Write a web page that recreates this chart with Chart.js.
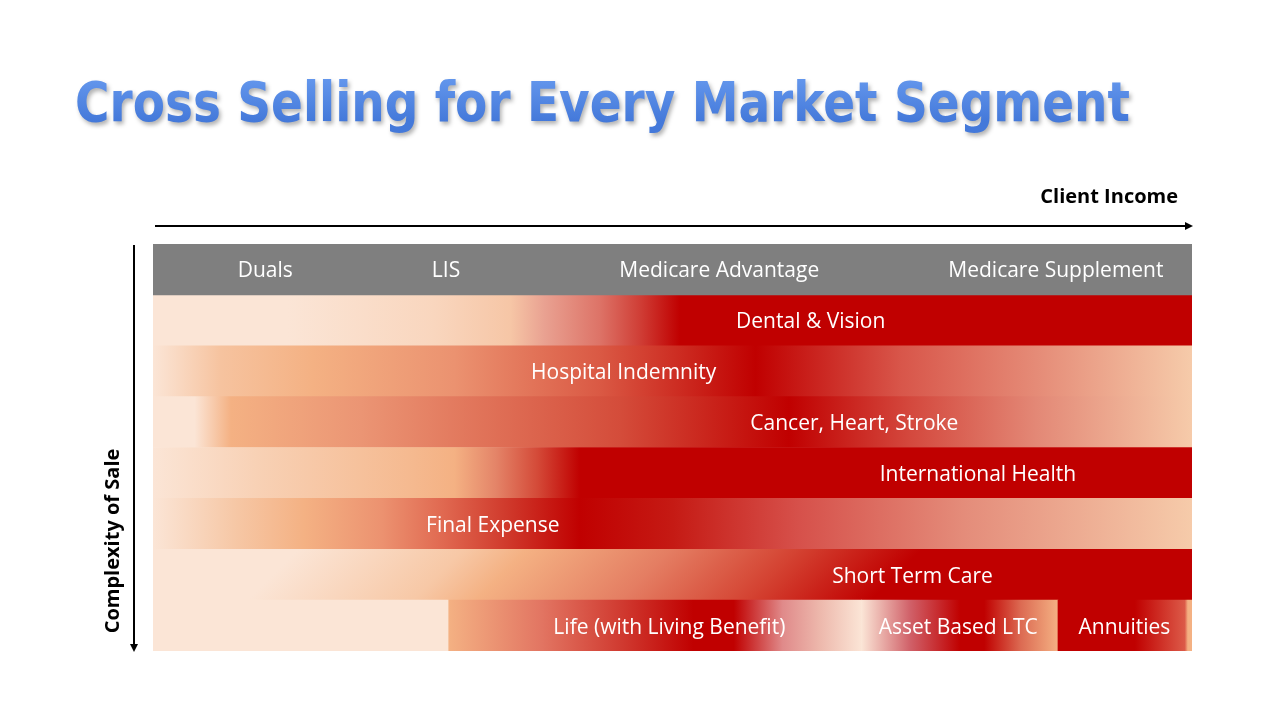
<!DOCTYPE html>
<html>
<head>
<meta charset="utf-8">
<title>Cross Selling for Every Market Segment</title>
<script src="https://cdn.jsdelivr.net/npm/chart.js"></script>
<style>
    html, body { margin: 0; padding: 0; background: #ffffff; }
    #chart { display: block; }
</style>
</head>
<body>
<canvas id="chart" width="1280" height="720"></canvas>
<script>
// Rows of the grid (top row holds the market segments)
const rowNames = ['Market Segment', 'Dental & Vision', 'Hospital Indemnity', 'Cancer, Heart, Stroke',
    'International Health', 'Final Expense', 'Short Term Care', 'Life / LTC / Annuities'];

// Market segments along client income (0 = lowest, 100 = highest)
const segments = ['Duals', 'LIS', 'Medicare Advantage', 'Medicare Supplement'];
const segmentAt = [10.8, 28.2, 54.5, 86.9];

// Products, the row they sit in, and the income span they cover
const products = ['Dental & Vision', 'Hospital Indemnity', 'Cancer, Heart, Stroke', 'International Health',
    'Final Expense', 'Short Term Care', 'Life (with Living Benefit)', 'Asset Based LTC', 'Annuities'];
const productRow = [1, 2, 3, 4, 5, 6, 7, 7, 7];
const productStart = [0, 0, 0, 0, 0, 0, 28.4, 68.2, 87.1];
const productEnd = [100, 100, 100, 100, 100, 100, 68.2, 87.1, 100];
const labelAt = [63.3, 45.3, 67.5, 79.4, 32.7, 73.1, 49.7, 77.5, 93.5];

// Colours
const CREAM = '#fbe5d6';
const PEACH = '#f4b183';
const RED = '#c00000';
const GREY = '#7f7f7f';

// Gradient stops per product, in income units
const fills = {
    'Dental & Vision': [[0, CREAM], [13, CREAM], [27, '#f9d6be'], [34.4, '#f6c6a6'], [37.7, '#e9a191'],
        [43, '#dd7367'], [47, '#cf3c34'], [50.7, RED], [100, RED]],
    'Hospital Indemnity': [[0, CREAM], [6.5, '#f6c39f'], [15.4, PEACH], [29, '#eb9270'], [43, '#da5944'],
        [58, RED], [72, '#d8564a'], [85, '#e58b77'], [100, '#f6cbaa']],
    'Cancer, Heart, Stroke': [[0, CREAM], [4, CREAM], [7.5, PEACH], [20, '#eb9574'], [45, '#d44c3a'],
        [61.2, RED], [73, '#d4493e'], [85, '#e38876'], [100, '#f6cbaa']],
    'International Health': [[0, CREAM], [10, '#f8d1b5'], [25, '#f5b98f'], [29, PEACH], [33, '#e48468'],
        [37, '#d44a38'], [41.1, RED], [100, RED]],
    'Final Expense': [[0, CREAM], [8, '#f6c7a5'], [14.6, PEACH], [22, '#ec9270'], [28, '#e06850'],
        [34, '#d03a2c'], [41.1, RED], [50, '#c51a14'], [62, '#d6504a'], [78, '#e48c7a'], [100, '#f6cbaa']],
    'Short Term Care': [[0, CREAM], [14, CREAM], [30, '#f7c8a6'], [36, PEACH], [50, '#e47d62'],
        [62, '#d44332'], [74, RED], [100, RED]],
    'Life (with Living Benefit)': [[28.4, PEACH], [37.4, '#e27562'], [45.1, '#d03a30'], [52, RED],
        [55.9, RED], [60.6, '#e08a8a'], [64.2, '#edb8ac'], [68.2, CREAM]],
    'Asset Based LTC': [[68.2, CREAM], [72.9, '#d06068'], [77.7, RED], [80, RED], [83.5, '#dc6a52'], [87.1, PEACH]],
    'Annuities': [[87.1, RED], [94.5, RED], [99.3, '#dc5a48'], [99.6, PEACH], [100, PEACH]]
};
// Short Term Care is shaded on a slant
const slanted = ['Short Term Care'];

function rowBand(chart, row) {
    const y = chart.scales.y;
    const h = (chart.chartArea.bottom - chart.chartArea.top) / rowNames.length;
    const mid = y.getPixelForValue(row);
    return { top: mid - h / 2, mid: mid, h: h };
}

function productFill(context) {
    const chart = context.chart;
    if (!chart.chartArea) return RED;
    const name = products[context.dataIndex];
    const stops = fills[name];
    const xs = chart.scales.x;
    const x0 = xs.getPixelForValue(0);
    const w = xs.getPixelForValue(100) - x0;
    let g;
    if (slanted.includes(name)) {
        const top = rowBand(chart, productRow[context.dataIndex]).top;
        g = chart.ctx.createLinearGradient(x0, top, x0 + w / 2, top + w / 2);
    } else {
        g = chart.ctx.createLinearGradient(x0, 0, x0 + w, 0);
    }
    stops.forEach(([pos, color]) => g.addColorStop(pos / 100, color));
    return g;
}

// Text on the bars plus the two axis arrows and the headline
const decorations = {
    id: 'decorations',
    afterDatasetsDraw(chart) {
        const ctx = chart.ctx;
        const xs = chart.scales.x;
        const area = chart.chartArea;

        ctx.save();
        ctx.fillStyle = '#ffffff';
        ctx.font = '21px "Open Sans"';
        ctx.textAlign = 'center';
        ctx.textBaseline = 'alphabetic';

        const head = rowBand(chart, 0);
        segments.forEach((s, i) => ctx.fillText(s, xs.getPixelForValue(segmentAt[i]), head.mid + 8));

        products.forEach((p, i) => {
            const band = rowBand(chart, productRow[i]);
            ctx.fillText(p, xs.getPixelForValue(labelAt[i]), band.mid + 8);
        });

        // Client income arrow
        ctx.strokeStyle = '#000000';
        ctx.fillStyle = '#000000';
        ctx.lineWidth = 2;
        const ay = area.top - 18;
        ctx.beginPath();
        ctx.moveTo(area.left + 2, ay);
        ctx.lineTo(area.right - 4, ay);
        ctx.stroke();
        ctx.beginPath();
        ctx.moveTo(area.right + 1, ay);
        ctx.lineTo(area.right - 7, ay - 4);
        ctx.lineTo(area.right - 7, ay + 4);
        ctx.closePath();
        ctx.fill();

        ctx.font = 'bold 20px "Open Sans"';
        ctx.textAlign = 'right';
        ctx.fillText('Client Income', area.right - 14, area.top - 41);

        // Complexity of sale arrow
        const ax = area.left - 19;
        ctx.beginPath();
        ctx.moveTo(ax, area.top + 1);
        ctx.lineTo(ax, area.bottom - 4);
        ctx.stroke();
        ctx.beginPath();
        ctx.moveTo(ax, area.bottom + 1);
        ctx.lineTo(ax - 4, area.bottom - 7);
        ctx.lineTo(ax + 4, area.bottom - 7);
        ctx.closePath();
        ctx.fill();

        ctx.translate(area.left - 34, area.bottom - 110);
        ctx.rotate(-Math.PI / 2);
        ctx.textAlign = 'center';
        ctx.fillText('Complexity of Sale', 0, 0);
        ctx.restore();

        // Headline, squeezed to the width of the slide title
        ctx.save();
        const title = 'Cross Selling for Every Market Segment';
        ctx.font = 'bold 55px "DejaVu Sans"';
        ctx.textBaseline = 'alphabetic';
        ctx.textAlign = 'left';
        const tw = ctx.measureText(title).width;
        const sx = 1055 / tw;
        ctx.translate(75, 121);
        ctx.scale(sx, 1);
        ctx.shadowColor = 'rgba(0, 0, 0, 0.3)';
        ctx.shadowOffsetX = 2;
        ctx.shadowOffsetY = 3;
        ctx.shadowBlur = 4;
        const tg = ctx.createLinearGradient(0, -42, 0, 0);
        tg.addColorStop(0, '#6396ec');
        tg.addColorStop(1, '#4479da');
        ctx.fillStyle = tg;
        ctx.fillText(title, 0, 0);
        ctx.restore();
    }
};

const barStyle = { grouped: false, barPercentage: 1, categoryPercentage: 1, borderWidth: 0 };

new Chart(document.getElementById('chart'), {
    type: 'bar',
    data: {
        labels: rowNames,
        datasets: [
            Object.assign({
                label: 'Market Segment',
                data: [{ y: rowNames[0], x: [0, 100] }],
                backgroundColor: GREY
            }, barStyle),
            Object.assign({
                label: 'Not offered',
                data: [{ y: rowNames[7], x: [0, productStart[6]] }],
                backgroundColor: CREAM
            }, barStyle),
            Object.assign({
                label: 'Products',
                data: products.map((p, i) => ({ y: rowNames[productRow[i]], x: [productStart[i], productEnd[i]] })),
                backgroundColor: productFill
            }, barStyle)
        ]
    },
    options: {
        indexAxis: 'y',
        responsive: false,
        animation: false,
        layout: { padding: { left: 153, right: 88, top: 244, bottom: 69 } },
        scales: {
            x: { type: 'linear', min: 0, max: 100, display: false },
            y: { type: 'category', display: false }
        },
        plugins: {
            legend: { display: false },
            tooltip: { enabled: false },
            title: { display: false }
        }
    },
    plugins: [decorations]
});
</script>
</body>
</html>
